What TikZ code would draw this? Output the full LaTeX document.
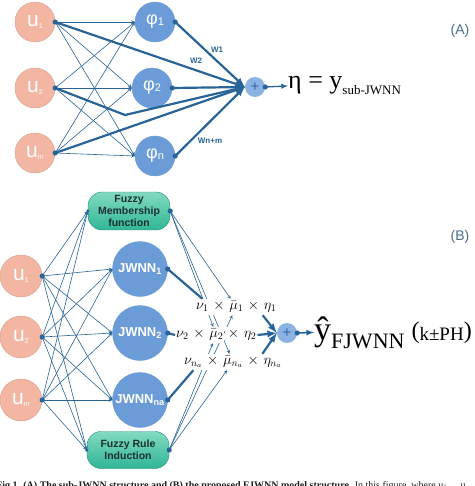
\documentclass[tikz,border=0pt]{standalone}
\usepackage{fontspec}
\setmainfont{Liberation Serif}
\setsansfont{Liberation Sans}
\usepackage{tikz}
\usetikzlibrary{shapes,positioning,backgrounds}
\definecolor{linecol}{RGB}{40,100,152}
\definecolor{salmon}{RGB}{243,182,162}
\definecolor{salmonD}{RGB}{214,160,142}
\definecolor{neuron}{RGB}{108,156,215}
\definecolor{tealL}{RGB}{130,218,192}
\definecolor{tealM}{RGB}{48,182,150}
\definecolor{tealD}{RGB}{28,140,112}
\definecolor{boxtext}{RGB}{28,48,48}
\definecolor{sumfill}{RGB}{140,178,228}
\definecolor{sumtext}{RGB}{45,105,170}
\definecolor{panelcol}{RGB}{70,108,140}
\definecolor{captext}{RGB}{30,30,30}
\newcommand{\tinysub}[1]{\raisebox{-2pt}{\fontsize{7}{7}\selectfont #1}}

\begin{document}
\begin{tikzpicture}[x=1pt,y=-1pt]
    \tikzstyle{input} = [circle,draw=salmonD,fill=salmon,minimum size=40pt,inner sep=0pt,text=white,font=\sffamily\fontsize{21}{21}\selectfont]
    \tikzstyle{hidden} = [circle,draw=neuron,fill=neuron,minimum size=40pt,inner sep=0pt,text=white,font=\sffamily\fontsize{18}{18}\selectfont]
    \tikzstyle{jwnn} = [hidden,minimum size=55pt,font=\sffamily\bfseries\fontsize{13}{13}\selectfont]
    \tikzstyle{fuzzy} = [rectangle,rounded corners=14pt,draw=tealD,top color=tealL,bottom color=tealM,minimum width=82pt,minimum height=37pt,align=center,text=boxtext,font=\sffamily\bfseries\fontsize{10.5}{12}\selectfont]
    \tikzstyle{sum} = [circle,fill=sumfill,minimum size=20pt,inner sep=0pt,text=sumtext,font=\sffamily\fontsize{15}{15}\selectfont]
    \tikzstyle{link} = [draw=linecol,line width=0.6pt,-stealth]
    \tikzstyle{heavy} = [draw=linecol,line width=2.2pt]
    \tikzstyle{weight} = [text=linecol,font=\sffamily\bfseries\fontsize{8}{8}\selectfont]
    \tikzstyle{panel} = [text=panelcol,font=\sffamily\fontsize{14}{14}\selectfont]
    \tikzstyle{term} = [fill=white,inner xsep=1pt,inner ysep=0pt,text height=10pt,text depth=6pt,font=\fontsize{14}{14}\selectfont]
    \tikzstyle{op} = [term,inner xsep=3.3pt]
    \useasboundingbox (0,0) rectangle (474,486);
    % (A) sub-JWNN
    \node[input] (u1a) at (35,22) {u\tinysub{1}};
    \node[input] (u2a) at (35,88) {u\tinysub{2}};
    \node[input] (uma) at (35,153) {u\tinysub{m}};
    \node[hidden] (p1) at (155,22) {φ\raisebox{-1pt}{\fontsize{11}{11}\selectfont 1}};
    \node[hidden] (p2) at (152,88) {φ\raisebox{-1pt}{\fontsize{11}{11}\selectfont 2}};
    \node[hidden] (pn) at (155,156) {φ\raisebox{-1pt}{\fontsize{11}{11}\selectfont n}};
    \node[sum] (suma) at (255,87) {+};
    \coordinate (kink) at (125,115);
    \node[anchor=base west,inner sep=0pt] (outa) at (288,89) {{\fontsize{26}{26}\selectfont η = y}\raisebox{-6pt}{\fontsize{13}{13}\selectfont sub-JWNN}};
    \node[panel] (panela) at (460,31) {(A)};
    \foreach \u in {u1a,u2a,uma}
        \foreach \p in {p1,p2,pn}
            \draw[link] (\u.east) -- (\p.west);
    \draw[heavy,-latex] (u1a.east) -- (suma.west);
    \draw[heavy,-latex] (u2a.east) -- (kink) -- (suma.west);
    \draw[heavy,-latex] (uma.east) -- (suma.west);
    \foreach \p in {p1,p2,pn}
        \draw[heavy,-latex] (\p.east) -- (suma.west);
    \draw[linecol,line width=1.3pt,-latex] (suma.east) -- (outa.west);
    \foreach \n in {u1a,u2a,uma,p1,p2,pn,suma}
        \fill[linecol] (\n.east) circle (2.6pt);
    \node[weight] (w1) at (217,50) {W1};
    \node[weight] (w2) at (196,61) {W2};
    \node[weight] (wnm) at (210,141) {Wn+m};
    % (B) FJWNN
    \node[input,minimum size=42pt] (u1b) at (21,276) {u\tinysub{1}};
    \node[input,minimum size=42pt] (u2b) at (21,337) {u\tinysub{2}};
    \node[input,minimum size=42pt] (umb) at (21,400) {u\tinysub{m}};
    \node[fuzzy] (fmf) at (129,211) {Fuzzy\\Membership\\function};
    \node[jwnn] (j1) at (140,269) {JWNN\textsubscript{1}};
    \node[jwnn] (j2) at (140,333) {JWNN\textsubscript{2}};
    \node[jwnn] (jn) at (140,400) {JWNN\textsubscript{na}};
    \node[fuzzy] (fri) at (128,450) {Fuzzy Rule\\Induction};
    \foreach \r/\s/\x/\y in {1/1/195/309,2/2/175/337,n/n_a/183/364} {
        \node[term,anchor=base west] (v\r) at (\x,\y) {$\nu_{\s}$};
        \node[op,base right=0pt of v\r] (xa\r) {$\times$};
        \node[term,base right=0pt of xa\r] (m\r) {$\bar{\mu}_{\s}$};
        \node[op,base right=0pt of m\r] (xb\r) {$\times$};
        \node[term,base right=0pt of xb\r] (e\r) {$\eta_{\s}$};
    }
    \node[sum] (sumb) at (287,333) {+};
    \node[anchor=base west,inner sep=0pt] (outb) at (314,340) {{\fontsize{34}{34}\selectfont ŷ}\raisebox{-8pt}{\fontsize{22}{22}\selectfont FJWNN}\hspace{7pt}\raisebox{2pt}{\fontsize{24}{24}\selectfont(}{\fontsize{19}{19}\selectfont k±PH}\raisebox{2pt}{\fontsize{24}{24}\selectfont)}};
    \node[panel] (panelb) at (460,237) {(B)};
    \begin{pgfonlayer}{background}
        \foreach \r in {1,2,n} {
            \draw[link] (fmf.east) -- (m\r);
            \draw[link] (fri.east) -- (m\r);
        }
    \end{pgfonlayer}
    \foreach \u in {u1b,u2b,umb}
        \foreach \t in {fmf,j1,j2,jn,fri}
            \draw[link] (\u.east) -- (\t.west);
    \draw[heavy] (j1.east) -- (v1.north);
    \draw[heavy] (j2.east) -- (v2.west);
    \draw[heavy] (jn.east) -- (vn.south);
    \draw[heavy,-latex] (e1.south west) -- (sumb.west);
    \draw[heavy,-latex] (e2.east) -- (sumb.west);
    \draw[heavy,-latex] (en.north west) -- (sumb.west);
    \draw[linecol,line width=1.6pt,-latex] (sumb.east) -- (outb.west);
    \foreach \n in {u1b,u2b,umb,j1,j2,jn,fmf,fri,sumb}
        \fill[linecol] (\n.east) circle (2.6pt);
    \fill[linecol] (fmf.west) circle (1.8pt);
    \fill[linecol] (fri.west) circle (1.8pt);
    % caption, cut by the lower edge
    \node[anchor=base west,inner sep=0pt,text=captext,font=\fontsize{10}{10}\selectfont] (caption) at (-4,488) {\textbf{Fig 1. (A) The sub-JWNN structure and (B) the proposed FJWNN model structure.} In this figure, where u\textsubscript{1} ... u};
\end{tikzpicture}
\end{document}
